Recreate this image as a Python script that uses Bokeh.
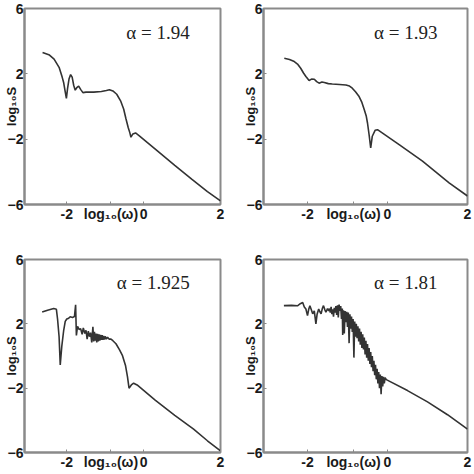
import math
from bokeh.plotting import figure
from bokeh.layouts import gridplot
from bokeh.models import Range1d, FixedTicker, Label
from bokeh.embed import file_html
from bokeh.resources import INLINE

# ---- data (log10 omega, log10 S) ----
alphas = ["1.94", "1.93", "1.925", "1.81"]

p1_x = [-2.63, -2.45, -2.33, -2.20, -2.12, -2.08, -2.04, -2.01, -1.98, -1.94, -1.90, -1.86,
        -1.82, -1.78, -1.74, -1.69, -1.64, -1.58, -1.50, -1.30, -1.10, -0.97, -0.89, -0.80,
        -0.70, -0.60, -0.52, -0.46, -0.40, -0.36, -0.33, -0.28, -0.21, -0.12, 0.35, 0.81,
        1.25, 1.66, 2.00]
p1_y = [3.31, 3.15, 2.90, 2.40, 1.80, 1.45, 0.90, 0.50, 1.10, 1.70, 1.95, 1.80,
        1.30, 1.00, 1.15, 1.25, 1.05, 0.85, 0.88, 0.88, 0.92, 0.98, 1.03, 0.95,
        0.75, 0.35, -0.15, -0.75, -1.30, -1.60, -1.88, -1.68, -1.62, -1.78, -2.70, -3.60,
        -4.45, -5.21, -5.78]

p2_x = [-2.58, -2.45, -2.33, -2.25, -2.17, -2.10, -2.04, -1.96, -1.90, -1.83, -1.77, -1.71,
        -1.64, -1.58, -1.48, -1.38, -1.20, -1.04, -0.95, -0.88, -0.80, -0.71, -0.64, -0.58,
        -0.53, -0.50, -0.46, -0.42, -0.38, -0.31, -0.25, 0.30, 0.875, 1.54, 2.00]
p2_y = [2.95, 2.88, 2.75, 2.60, 2.34, 2.05, 1.84, 1.59, 1.68, 1.67, 1.52, 1.43,
        1.50, 1.47, 1.40, 1.38, 1.35, 1.32, 1.25, 1.12, 0.90, 0.61, 0.25, -0.20,
        -0.60, -1.01, -1.73, -2.54, -1.82, -1.46, -1.42, -2.35, -3.35, -4.67, -5.48]

p3_x = [-2.64, -2.50, -2.34, -2.27, -2.24, -2.20, -2.17, -2.13, -2.08, -2.04, -2.00, -1.95,
        -1.91, -1.85, -1.80, -1.77, -1.75, -1.72, -1.68, -1.64, -1.60, -1.57, -1.53, -1.50,
        -1.47, -1.44, -1.41, -1.38, -1.35, -1.32, -1.30, -1.28, -1.26, -1.24, -1.22, -1.20,
        -1.18, -1.16, -1.14, -1.12, -1.10, -1.08, -1.06, -1.04, -1.02, -1.00, -0.97, -0.94,
        -0.90, -0.85, -0.80, -0.72, -0.63, -0.55, -0.47, -0.42, -0.38, -0.32, -0.26, -0.17,
        0.30, 0.81, 1.30, 1.66, 2.00]
p3_y = [2.73, 2.85, 2.95, 2.90, 2.30, 1.20, -0.55, 0.60, 1.60, 2.15, 2.30, 2.35,
        2.44, 2.40, 2.45, 3.18, 1.28, 1.85, 1.65, 1.70, 1.35, 1.75, 1.40, 1.60,
        1.05, 1.55, 1.20, 1.45, 0.85, 1.81, 0.90, 1.50, 0.95, 1.40, 0.85, 1.38,
        0.90, 1.35, 0.95, 1.32, 1.00, 1.30, 1.00, 1.25, 1.02, 1.22, 1.05, 1.17,
        1.05, 1.05, 0.95, 0.76, 0.40, 0.02, -0.61, -1.30, -2.00, -1.80, -1.69, -1.80,
        -2.75, -3.69, -4.55, -5.27, -5.90]

p4_x = [-2.59, -2.40, -2.25, -2.18, -2.12, -2.08, -2.04, -2.00, -1.97, -1.94, -1.90, -1.87,
        -1.83, -1.79, -1.76, -1.72, -1.69, -1.66, -1.63, -1.60, -1.57, -1.54, -1.50, -1.47,
        -1.45, -1.43, -1.41, -1.39, -1.37, -1.35, -1.33, -1.31, -1.29, -1.27, -1.25, -1.23,
        -1.21, -1.19, -1.17, -1.15, -1.13, -1.12, -1.10, -1.08, -1.06, -1.04, -1.02, -1.00,
        -0.98, -0.96, -0.94, -0.92, -0.90, -0.88, -0.86, -0.84, -0.82, -0.80, -0.78, -0.76,
        -0.74, -0.72, -0.70, -0.68, -0.66, -0.64, -0.62, -0.60, -0.58, -0.56, -0.54, -0.52,
        -0.50, -0.48, -0.46, -0.44, -0.42, -0.40, -0.38, -0.36, -0.34, -0.32, -0.30, -0.28,
        -0.26, -0.24, -0.22, -0.20, -0.18, -0.16, -0.14, -0.12, -0.10, -0.08, -0.06, -0.03,
        0.50, 1.00, 1.50, 2.00]
p4_y = [3.13, 3.15, 3.12, 3.25, 3.33, 3.05, 2.92, 2.51, 2.90, 3.13, 2.85, 2.62,
        2.80, 2.00, 2.60, 2.92, 2.75, 2.62, 2.95, 3.13, 2.90, 2.72, 2.95, 2.80,
        2.95, 2.70, 3.05, 2.60, 2.90, 2.45, 3.00, 2.70, 3.10, 2.55, 3.15, 2.40,
        3.20, 2.80, 3.10, 2.30, 2.95, 1.30, 2.85, 1.40, 2.80, 2.10, 2.75, 1.80,
        2.70, 0.80, 2.60, 1.70, 2.45, 1.50, 2.30, -0.10, 2.15, 1.20, 2.00, 1.10,
        1.85, 0.90, 1.70, 0.70, 1.50, 0.50, 1.35, 0.40, 1.15, 0.10, 0.95, -0.10,
        0.75, -0.30, 0.50, -0.50, 0.25, -0.70, 0.00, -0.95, -0.30, -1.20, -0.55, -1.45,
        -0.80, -1.70, -1.00, -2.00, -1.15, -2.37, -1.25, -1.90, -1.30, -1.70, -1.35, -1.47,
        -2.15, -2.85, -3.65, -4.55]

x_ticks = [-2, -0.85, 0, 2]
x_tick_labels = {-2: "-2", -0.85: "log\u2081\u2080(\u03c9)", 0: "0", 2: "2"}
y_ticks = [-6, -2, 2, 6]
y_label = "log\u2081\u2080S"

series = [(p1_x, p1_y), (p2_x, p2_y), (p3_x, p3_y), (p4_x, p4_y)]

GRAY = "#8a8a8a"
TXT = "#1a1a1a"
FONT = "Liberation Sans"


def panel(i, xs, ys):
    left_col = i % 2 == 0
    top_row = i < 2
    p = figure(width=232 if left_col else 240, height=237 if top_row else 235,
               output_backend="svg", toolbar_location=None,
               x_range=Range1d(-3.1, 2), y_range=Range1d(-6, 6))
    p.min_border_left = 17 if left_col else 31
    p.min_border_right = 12 if left_col else 5
    p.min_border_top = 8 if top_row else 22
    p.min_border_bottom = 33 if top_row else 19
    p.grid.visible = False
    p.outline_line_color = GRAY
    p.outline_line_width = 2
    p.background_fill_color = "white"
    p.border_fill_color = "white"
    for ax in (p.xaxis[0], p.yaxis[0]):
        ax.axis_line_color = GRAY
        ax.axis_line_width = 2
        ax.major_tick_in = 3
        ax.major_tick_out = 0
        ax.minor_tick_line_color = None
        ax.major_tick_line_color = GRAY
        ax.major_label_text_font = FONT
        ax.major_label_text_font_size = "14px"
        ax.major_label_text_font_style = "bold"
        ax.major_label_text_color = TXT
        ax.major_label_standoff = 1
    p.xaxis[0].ticker = FixedTicker(ticks=x_ticks)
    p.xaxis[0].major_label_overrides = x_tick_labels
    p.yaxis[0].ticker = FixedTicker(ticks=y_ticks)
    p.yaxis[0].axis_label = y_label
    p.yaxis[0].axis_label_standoff = -14
    p.yaxis[0].axis_label_text_font = FONT
    p.yaxis[0].axis_label_text_font_size = "13px"
    p.yaxis[0].axis_label_text_font_style = "bold"
    p.yaxis[0].axis_label_text_color = TXT

    p.line(xs, ys, line_color="#333333", line_width=1.6)

    p.add_layout(Label(x=1.2 if left_col else 1.25, y=4.55, text="\u03b1 = " + alphas[i],
                       text_align="right", text_baseline="middle",
                       text_font="Liberation Serif", text_font_size="19px",
                       text_color="#222222"))
    return p


figs = [panel(i, xs, ys) for i, (xs, ys) in enumerate(series)]
grid = gridplot([[figs[0], figs[1]], [figs[2], figs[3]]], toolbar_location=None)

open("out.html", "w").write(file_html(grid, INLINE))
